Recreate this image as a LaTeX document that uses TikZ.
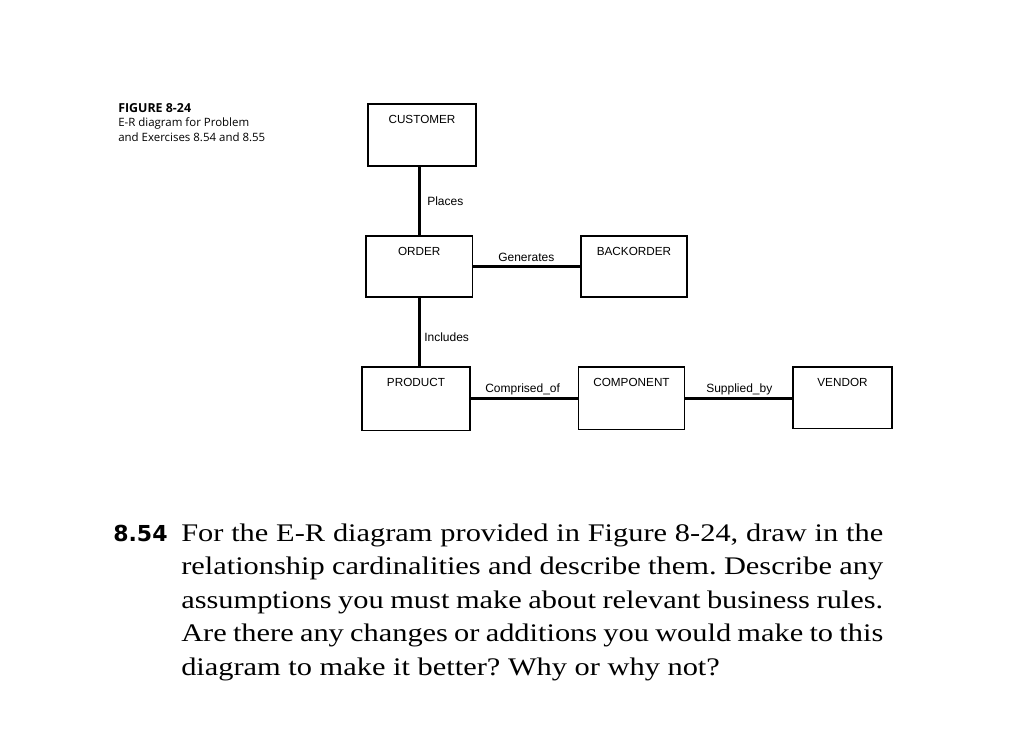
\documentclass[tikz,border=0pt]{standalone}
\usepackage{fontspec}
\setmainfont{Liberation Serif}
\newfontfamily\entf{Liberation Sans}
\newfontfamily\capf{Open Sans}
\newfontfamily\numf{DejaVu Sans}
\usetikzlibrary{calc}
\frenchspacing
\newcommand{\bodyline}[1]{\scalebox{1.2}[1]{\makebox[438.75pt][s]{#1}}}
\newcommand{\lastline}[1]{\scalebox{1.2}[1]{#1}}
\begin{document}
\begin{tikzpicture}[x=0.75pt,y=-0.75pt,
  entity/.style={draw=black, line width=0.95pt, inner sep=0pt, outer sep=0pt, fill=none},
  entname/.style={anchor=base, inner sep=0pt, font=\entf\fontsize{8.8pt}{10pt}\selectfont},
  relname/.style={anchor=base west, inner sep=0pt, font=\entf\fontsize{9pt}{10pt}\selectfont},
  rel/.style={line width=2.1pt, black},
  capline/.style={anchor=base west, inner sep=0pt, font=\capf\fontsize{8.6pt}{10pt}\selectfont},
  bodytext/.style={anchor=base west, inner sep=0pt, font=\fontsize{19pt}{22pt}\selectfont}]
\useasboundingbox[fill=white] (0,0) rectangle (1024,742);

% caption
\node[capline, font=\capf\bfseries\fontsize{9.3pt}{10pt}\selectfont] (figno) at (118,112.5) {FIGURE 8-24};
\node[capline] (cap1) at (118,127) {E-R diagram for Problem};
\node[capline] (cap2) at (118,141.5) {and Exercises 8.54 and 8.55};

% entities
\node[entity, minimum width=81pt, minimum height=46.5pt] (CUSTOMER) at (422,135) {};
\node[entity, minimum width=79.9pt, minimum height=45.75pt] (ORDER) at (419.2,266.5) {};
\node[entity, minimum width=79.5pt, minimum height=45.75pt] (BACKORDER) at (634,266.5) {};
\node[entity, minimum width=81pt, minimum height=47.6pt] (PRODUCT) at (416,398.7) {};
\node[entity, minimum width=79.5pt, minimum height=46.9pt] (COMPONENT) at (631.5,398.2) {};
\node[entity, minimum width=74.25pt, minimum height=46.1pt] (VENDOR) at (842.5,397.7) {};

\node[entname] (tCUSTOMER) at ([yshift=-14.6pt]CUSTOMER.north) {CUSTOMER};
\node[entname] (tORDER) at ([yshift=-14.4pt]ORDER.north) {ORDER};
\node[entname] (tBACKORDER) at ([yshift=-14.8pt]BACKORDER.north) {BACKORDER};
\node[entname] (tPRODUCT) at ([yshift=-15pt]PRODUCT.north) {PRODUCT};
\node[entname] (tCOMPONENT) at ([yshift=-14.4pt]COMPONENT.north) {COMPONENT};
\node[entname] (tVENDOR) at ([yshift=-15pt]VENDOR.north) {VENDOR};

% relationships
\draw[rel] (CUSTOMER.south -| ORDER.north) -- (ORDER.north);
\draw[rel] (ORDER.south) -- (ORDER.south |- PRODUCT.north);
\draw[rel] (ORDER.east) -- (BACKORDER.west);
\draw[rel] (PRODUCT.east) -- (PRODUCT.east -| COMPONENT.west);
\draw[rel] (COMPONENT.east) -- (COMPONENT.east -| VENDOR.west);

\node[relname] (lPlaces) at (427,205) {Places};
\node[relname] (lIncludes) at (424,341) {Includes};
\node[relname] (lGenerates) at (498,261) {Generates};
\node[relname] (lComprised) at (485,392) {Comprised\_of};
\node[relname] (lSupplied) at (706,392.5) {Supplied\_by};

% exercise text
\node[anchor=base west, inner sep=0pt, font=\numf\bfseries\fontsize{16.5pt}{20pt}\selectfont] (exno) at (113,541) {8.54};
\node[bodytext] (b1) at (181,541) {\bodyline{For the E-R diagram provided in Figure 8-24, draw in the}};
\node[bodytext] (b2) at (181,574.5) {\bodyline{relationship cardinalities and describe them. Describe any}};
\node[bodytext] (b3) at (181,608) {\bodyline{assumptions you must make about relevant business rules.}};
\node[bodytext] (b4) at (181,641.5) {\bodyline{Are there any changes or additions you would make to this}};
\node[bodytext] (b5) at (181,675) {\lastline{diagram to make it better? Why or why not?}};
\end{tikzpicture}
\end{document}
